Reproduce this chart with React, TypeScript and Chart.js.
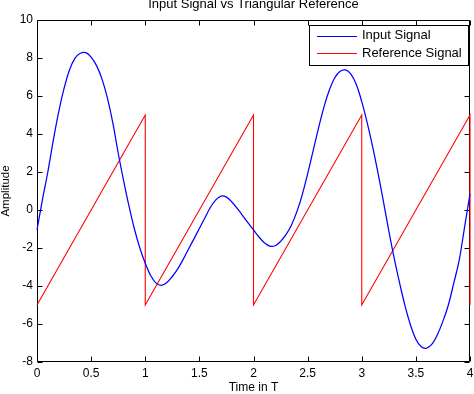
import React, { useEffect, useRef } from "react";
import { Chart, registerables } from "chart.js";

Chart.register(...registerables);

const chartTitle = "Input Signal vs Triangular Reference";
const xTitle = "Time in T";
const yTitle = "Amplitude";
const inputLabel = "Input Signal";
const refLabel = "Reference Signal";

const timeValues = [
  0, 0.05, 0.1, 0.15, 0.2, 0.25, 0.3, 0.35, 0.4, 0.45,
  0.5, 0.55, 0.6, 0.65, 0.7, 0.75, 0.8, 0.85, 0.9, 0.95,
  1, 1.05, 1.1, 1.15, 1.2, 1.25, 1.3, 1.35, 1.4, 1.45,
  1.5, 1.55, 1.6, 1.65, 1.7, 1.75, 1.8, 1.85, 1.9, 1.95,
  2, 2.05, 2.1, 2.15, 2.2, 2.25, 2.3, 2.35, 2.4, 2.45,
  2.5, 2.55, 2.6, 2.65, 2.7, 2.75, 2.8, 2.85, 2.9, 2.95,
  3, 3.05, 3.1, 3.15, 3.2, 3.25, 3.3, 3.35, 3.4, 3.45,
  3.5, 3.55, 3.6, 3.65, 3.7, 3.75, 3.8, 3.85, 3.9, 3.95,
  4,
];

const inputValues = [
  -1.05, 0.53, 2.0, 3.65, 5.15, 6.4, 7.37, 7.98, 8.25, 8.28,
  8.05, 7.6, 6.9, 5.9, 4.6, 3.0, 1.55, 0.2, -1.0, -2.0,
  -2.8, -3.45, -3.85, -3.97, -3.82, -3.5, -3.1, -2.6, -2.05, -1.52,
  -0.97, -0.42, 0.12, 0.52, 0.73, 0.68, 0.42, 0.08, -0.3, -0.68,
  -1.05, -1.42, -1.72, -1.9, -1.88, -1.65, -1.3, -0.8, -0.1, 0.8,
  1.9, 3.1, 4.3, 5.4, 6.3, 6.95, 7.3, 7.37, 7.15, 6.6,
  5.7, 4.6, 3.35, 1.95, 0.45, -1.1, -2.55, -3.85, -5.05, -6.05,
  -6.8, -7.2, -7.27, -7.05, -6.55, -5.85, -5.0, -3.85, -2.65, -0.9,
  0.85,
];

const refTimes = [0, 1, 1, 2, 2, 3, 3, 4, 4];
const refValues = [-5, 5, -5, 5, -5, 5, -5, 5, -5];

const xMin = 0;
const xMax = 4;
const xStep = 0.5;
const yMin = -8;
const yMax = 10;
const yStep = 2;

const FONT = "'Liberation Sans', Arial, Helvetica, sans-serif";
const BLUE = "#0000ff";
const RED = "#ff0000";

const boxPlugin = {
  id: "matlabBox",
  beforeDatasetsDraw(chart: any) {
    const { ctx, chartArea: a, scales } = chart;
    const l = Math.round(a.left) + 0.5;
    const r = Math.round(a.right) - 0.5;
    const t = Math.round(a.top) + 0.5;
    const b = Math.round(a.bottom) - 0.5;
    ctx.save();
    ctx.strokeStyle = "#000";
    ctx.lineWidth = 1;
    ctx.beginPath();
    ctx.rect(l, t, r - l, b - t);
    ctx.stroke();
    const len = 5;
    ctx.beginPath();
    scales.x.ticks.forEach((tk: any) => {
      const px = Math.round(scales.x.getPixelForValue(tk.value)) + 0.5;
      ctx.moveTo(px, b);
      ctx.lineTo(px, b - len);
      ctx.moveTo(px, t);
      ctx.lineTo(px, t + len);
    });
    scales.y.ticks.forEach((tk: any) => {
      const py = Math.round(scales.y.getPixelForValue(tk.value)) + 0.5;
      ctx.moveTo(l, py);
      ctx.lineTo(l + len, py);
      ctx.moveTo(r, py);
      ctx.lineTo(r - len, py);
    });
    ctx.stroke();
    ctx.restore();
  },
};

const legendPlugin = {
  id: "matlabLegend",
  afterDatasetsDraw(chart: any) {
    const { ctx, chartArea: a } = chart;
    const items = chart.data.datasets.map((d: any) => ({
      label: d.label,
      color: d.borderColor,
    }));
    ctx.save();
    ctx.font = `13px ${FONT}`;
    const textW = Math.max(...items.map((it: any) => ctx.measureText(it.label).width));
    const padL = 8;
    const lineLen = 40;
    const gap = 5;
    const padR = 6;
    const w = Math.round(padL + lineLen + gap + textW + padR);
    const h = 40;
    const right = Math.round(a.right) - 2;
    const top = Math.round(a.top) + 5;
    const left = right - w;
    ctx.fillStyle = "#fff";
    ctx.fillRect(left, top, w, h);
    ctx.strokeStyle = "#000";
    ctx.lineWidth = 1;
    ctx.strokeRect(left + 0.5, top + 0.5, w, h);
    items.forEach((it: any, i: number) => {
      const y = top + 10.5 + i * 17.5;
      ctx.strokeStyle = it.color;
      ctx.lineWidth = 1.2;
      ctx.beginPath();
      ctx.moveTo(left + padL, Math.round(y) + 0.5);
      ctx.lineTo(left + padL + lineLen, Math.round(y) + 0.5);
      ctx.stroke();
      ctx.fillStyle = "#000";
      ctx.textBaseline = "middle";
      ctx.textAlign = "left";
      ctx.fillText(it.label, left + padL + lineLen + gap, y);
    });
    ctx.restore();
  },
};

export default function App() {
  const ref = useRef<HTMLCanvasElement | null>(null);

  useEffect(() => {
    if (!ref.current) return;
    Chart.defaults.color = "#000";
    Chart.defaults.font.family = FONT;
    const inputData = timeValues.map((t, i) => ({ x: t, y: inputValues[i] }));
    const refData = refTimes.map((t, i) => ({ x: t, y: refValues[i] }));
    const chart = new Chart(ref.current, {
      type: "line",
      data: {
        datasets: [
          {
            label: inputLabel,
            data: inputData,
            borderColor: BLUE,
            backgroundColor: BLUE,
            borderWidth: 1.25,
            pointRadius: 0,
            tension: 0.35,
            clip: false,
          },
          {
            label: refLabel,
            data: refData,
            borderColor: RED,
            backgroundColor: RED,
            borderWidth: 1.1,
            pointRadius: 0,
            tension: 0,
            clip: false,
          },
        ],
      } as any,
      options: {
        animation: false,
        responsive: false,
        maintainAspectRatio: false,
        layout: { padding: { left: 0, right: 4, top: 0, bottom: 0 } },
        plugins: {
          legend: { display: false },
          tooltip: { enabled: false },
          title: {
            display: true,
            text: chartTitle,
            fullSize: false,
            color: "#000",
            font: { size: 13, weight: "normal" as any, family: FONT },
            padding: { top: -3.8, bottom: 8.2 },
          },
        },
        scales: {
          x: {
            type: "linear",
            min: xMin,
            max: xMax,
            grid: { display: false, drawTicks: false },
            border: { display: false },
            ticks: {
              stepSize: xStep,
              padding: 4,
              color: "#000",
              font: { size: 12, family: FONT },
              maxRotation: 0,
              callback: (v: any) => String(Number(v)),
            },
            title: {
              display: true,
              text: xTitle,
              color: "#000",
              font: { size: 12, family: FONT },
              padding: { top: 0, bottom: -1 },
            },
            afterFit: (s: any) => {
              s.height = 32;
              s.paddingRight = 0;
              s.paddingLeft = 0;
            },
          },
          y: {
            type: "linear",
            min: yMin,
            max: yMax,
            grid: { display: false, drawTicks: false },
            border: { display: false },
            ticks: {
              stepSize: yStep,
              padding: 4,
              color: "#000",
              font: { size: 12, family: FONT },
              callback: (v: any) => String(Number(v)),
            },
            title: {
              display: true,
              text: yTitle,
              color: "#000",
              font: { size: 11.5, family: FONT },
              padding: { top: -1.5, bottom: 0 },
            },
            afterFit: (s: any) => {
              s.width = 37;
            },
          },
        },
      } as any,
      plugins: [boxPlugin, legendPlugin],
    });
    return () => chart.destroy();
  }, []);

  return (
    <div style={{ position: "fixed", left: 0, top: 0, width: 474, height: 394, background: "#fff" }}>
      <canvas ref={ref} width={474} height={394} style={{ display: "block" }} />
    </div>
  );
}
